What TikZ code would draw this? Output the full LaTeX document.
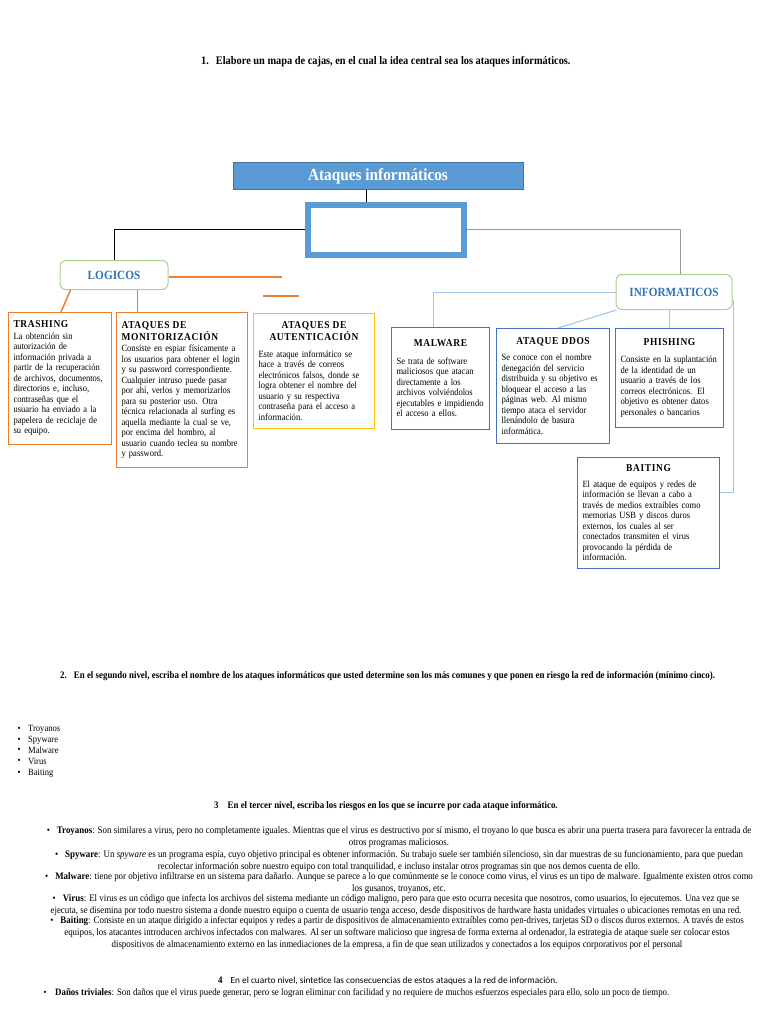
\documentclass[tikz,border=0pt]{standalone}
\usepackage{fontspec}
\setmainfont{Liberation Serif}[FakeStretch=0.9]
\newfontfamily\calfont{Carlito}
\definecolor{mapblue}{RGB}{91,155,213}
\definecolor{mapdark}{RGB}{65,113,156}
\definecolor{maporange}{RGB}{237,125,49}
\definecolor{mapgold}{RGB}{255,192,0}
\definecolor{mapgreen}{RGB}{169,209,142}
\definecolor{mapcard}{RGB}{68,114,196}
\definecolor{mapline}{RGB}{157,195,230}
\definecolor{maptext}{RGB}{46,116,181}
\usetikzlibrary{positioning}
\newcommand{\cardtitle}[1]{{\fontsize{10.5}{14}\selectfont\bfseries\addfontfeature{LetterSpace=6}#1}}
\newcommand{\bul}{•\hspace{7pt}}

\begin{document}
\begin{tikzpicture}[x=1pt,y=-1pt,
  card/.style={draw,line width=1pt,anchor=north west,inner sep=5pt,
    font=\fontsize{9.5}{10.5}\selectfont},
  group/.style={draw=mapgreen,line width=1pt,rounded corners=6pt,fill=white,
    font=\fontsize{12.5}{14}\selectfont\bfseries,text=maptext},
  orangeline/.style={draw=maporange,line width=1.5pt},
  blueline/.style={draw=mapline,line width=1pt},
  para/.style={font=\fontsize{9.9}{12}\selectfont,align=center,inner sep=0pt,anchor=north},
  head/.style={font=\fontsize{9.9}{12}\selectfont\bfseries,inner sep=0pt,anchor=west},
  dot/.style={font=\fontsize{9.5}{12}\selectfont,inner sep=0pt}]
\useasboundingbox (0,0) rectangle (768,1024);
% Heading 1
\node[head,font=\fontsize{11.5}{14}\selectfont\bfseries] (h1) at (201,62) {1.\hspace{7pt}Elabore un mapa de cajas, en el cual la idea central sea los ataques informáticos.};
% Central idea
\node[draw=mapdark,fill=mapblue,line width=1pt,minimum width=290pt,minimum height=27pt,
  font=\fontsize{17}{20}\selectfont\bfseries,text=white] (title) at (378,176) {Ataques informáticos};
\node[draw=mapblue,line width=6pt,minimum width=156pt,minimum height=50pt] (frame) at (386,230) {};
\draw[line width=1pt] ([xshift=-12pt]title.south) -- ([xshift=-12pt]title.south |- frame.north);
% Level 1
\node[group,minimum width=108pt,minimum height=29pt] (logic) at (114,275) {LOGICOS};
\node[group,minimum width=116pt,minimum height=35pt] (infor) at (674,292) {INFORMATICOS};
\draw[line width=1pt] (frame.west) -| (logic.north);
\draw[black!40,line width=1pt] (frame.east) -| ([xshift=6pt]infor.north);
% Logicos
\node[card,draw=maporange,text width=93pt,minimum height=132pt] (trash) at (8,312)
  {\raggedright\cardtitle{TRASHING}\\[1pt]
  La obtención sin\\autorización de\\información privada a\\partir de la recuperación\\de archivos, documentos,\\directorios e, incluso,\\contraseñas que el\\usuario ha enviado a la\\papelera de reciclaje de\\su equipo.};
\node[card,draw=maporange,text width=121pt,minimum height=155pt] (moni) at (116,312)
  {\raggedright\cardtitle{ATAQUES DE}\\\cardtitle{MONITORIZACIÓN}\\[1pt]
  Consiste en espiar físicamente a\\los usuarios para obtener el login\\y su password correspondiente.\\ Cualquier intruso puede pasar\\por ahí, verlos y memorizarlos\\para su posterior uso. Otra\\técnica relacionada al surfing es\\aquella mediante la cual se ve,\\por encima del hombro, al\\usuario cuando teclea su nombre\\y password.};
\node[card,draw=mapgold,text width=111pt,minimum height=115pt] (auten) at (253,313)
  {{\centering\cardtitle{ATAQUES DE}\\\cardtitle{AUTENTICACIÓN}\par}\vspace{6pt}
  \raggedright Este ataque informático se\\hace a través de correos\\electrónicos falsos, donde se\\logra obtener el nombre del\\usuario y su respectiva\\contraseña para el acceso a\\información.};
\coordinate (lgend) at (282,277);
\coordinate (dash1) at (263,296);
\coordinate (dash2) at (299,296);
\draw[orangeline] (logic.east |- lgend) -- (lgend);
\draw[orangeline] (dash1) -- (dash2);
\draw[orangeline] ([xshift=11pt]logic.south west) -- ([xshift=53pt]trash.north west);
\draw[orangeline] ([xshift=78pt]logic.south west) -- ([xshift=78pt]logic.south west |- moni.north);
% Informaticos
\node[card,draw=mapcard,text width=88pt,minimum height=102pt] (malw) at (391,327)
  {{\centering\cardtitle{MALWARE}\par}\vspace{7pt}
  \raggedright Se trata de software\\maliciosos que atacan\\directamente a los\\archivos volviéndolos\\ejecutables e impidiendo\\el acceso a ellos.};
\node[card,draw=mapcard,text width=103pt,minimum height=115pt] (ddos) at (496,328)
  {{\centering\cardtitle{ATAQUE DDOS}\par}\vspace{6pt}
  \raggedright Se conoce con el nombre\\denegación del servicio\\distribuida y su objetivo es\\bloquear el acceso a las\\páginas web. Al mismo\\tiempo ataca el servidor\\llenándolo de basura\\informática.};
\node[card,draw=mapcard,text width=98pt,minimum height=99pt] (phish) at (615,328)
  {{\centering\cardtitle{PHISHING}\par}\vspace{7pt}
  \raggedright Consiste en la suplantación\\de la identidad de un\\usuario a través de los\\correos electrónicos. El\\objetivo es obtener datos\\personales o bancarios};
\node[card,draw=mapcard,text width=132pt,minimum height=111pt] (bait) at (577,457)
  {{\centering\cardtitle{BAITING}\par}\vspace{5pt}
  \raggedright El ataque de equipos y redes de\\información se llevan a cabo a\\través de medios extraíbles como\\memorias USB y discos duros\\externos, los cuales al ser\\conectados transmiten el virus\\provocando la pérdida de\\información.};
\draw[blueline] (infor.west) -| ([xshift=-7pt]malw.north);
\draw[blueline] ([xshift=1pt]infor.south west) -- ([xshift=62pt]ddos.north west);
\draw[blueline] (infor.south -| phish.north) -- (phish.north);
\draw[blueline] ([yshift=-8pt]infor.east) -- ++(1,0) |- ([yshift=21pt]bait.east);
% Heading 2
\node[head] (h2) at (60,676) {2.\hspace{7pt}En el segundo nivel, escriba el nombre de los ataques informáticos que usted determine son los más comunes y que ponen en riesgo la red de información (mínimo cinco).};
\foreach \y/\name in {729/Troyanos,740/Spyware,750/Malware,761/Virus,773/Baiting}{
  \node[dot] (b\name) at (19,\y) {•};
  \node[dot,anchor=west] (l\name) at (28,\y) {\name};
}
% Heading 3
\node[head] (h3) at (214,806) {3\hspace{9pt}En el tercer nivel, escriba los riesgos en los que se incurre por cada ataque informático.};
\node[para] (p1) at (399,826) {\bul\textbf{Troyanos}: Son similares a virus, pero no completamente iguales. Mientras que el virus es destructivo por sí mismo, el troyano lo que busca es abrir una puerta trasera para favorecer la entrada de\\otros programas maliciosos.};
\node[para] (p2) at (399,850) {\bul\textbf{Spyware}: Un \textit{spyware} es un programa espía, cuyo objetivo principal es obtener información. Su trabajo suele ser también silencioso, sin dar muestras de su funcionamiento, para que puedan\\recolectar información sobre nuestro equipo con total tranquilidad, e incluso instalar otros programas sin que nos demos cuenta de ello.};
\node[para] (p3) at (399,872) {\bul\textbf{Malware}: tiene por objetivo infiltrarse en un sistema para dañarlo. Aunque se parece a lo que comúnmente se le conoce como virus, el virus es un tipo de malware. Igualmente existen otros como\\los gusanos, troyanos, etc.};
\node[para] (p4) at (396,894) {\bul\textbf{Virus}: El virus es un código que infecta los archivos del sistema mediante un código maligno, pero para que esto ocurra necesita que nosotros, como usuarios, lo ejecutemos. Una vez que se\\ejecuta, se disemina por todo nuestro sistema a donde nuestro equipo o cuenta de usuario tenga acceso, desde dispositivos de hardware hasta unidades virtuales o ubicaciones remotas en una red.};
\node[para] (p5) at (397,916) {\bul\textbf{Baiting}: Consiste en un ataque dirigido a infectar equipos y redes a partir de dispositivos de almacenamiento extraíbles como pen-drives, tarjetas SD o discos duros externos. A través de estos\\equipos, los atacantes introducen archivos infectados con malwares. Al ser un software malicioso que ingresa de forma externa al ordenador, la estrategia de ataque suele ser colocar estos\\dispositivos de almacenamiento externo en las inmediaciones de la empresa, a fin de que sean utilizados y conectados a los equipos corporativos por el personal};
% Heading 4
\node[head] (h4) at (218,981) {4\hspace{8pt}{\calfont\mdseries\fontsize{9.3}{11}\selectfont En el cuarto nivel, sintetice las consecuencias de estos ataques a la red de información.}};
\node[dot] (d6) at (45,993) {•};
\node[dot,anchor=west,font=\fontsize{9.85}{12}\selectfont] (p6) at (55,993) {\textbf{Daños triviales}: Son daños que el virus puede generar, pero se logran eliminar con facilidad y no requiere de muchos esfuerzos especiales para ello, solo un poco de tiempo.};
\end{tikzpicture}
\end{document}
